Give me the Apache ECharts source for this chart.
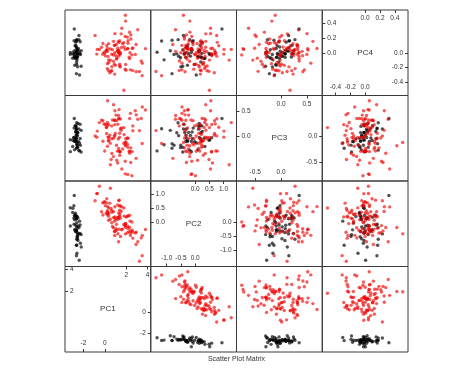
<!DOCTYPE html>
<html><head><meta charset="utf-8">
<script src="https://cdn.jsdelivr.net/npm/echarts@6/dist/echarts.min.js"></script>
<style>html,body{margin:0;padding:0;background:#fff}#c{width:474px;height:369px}</style>
</head><body><div id="c"></div>
<script>
// Variables (diagonal labels)
const varNames = ['PC1', 'PC2', 'PC3', 'PC4'];

// Scores of 150 observations
const pc1 = [-2.684,-2.714,-2.889,-2.745,-2.729,-2.281,-2.820,-2.626,-2.886,-2.672,-2.507,-2.613,-2.786,-3.223,-2.645,-2.387,-2.624,-2.648,-2.200,-2.588,
-2.310,-2.544,-3.216,-2.303,-2.355,-2.506,-2.469,-2.562,-2.640,-2.632,-2.587,-2.410,-2.649,-2.599,-2.637,-2.866,-2.625,-2.801,-2.980,-2.590,
-2.770,-2.849,-2.997,-2.406,-2.210,-2.714,-2.538,-2.839,-2.543,-2.703,
1.284,0.932,1.464,0.184,1.088,0.642,1.095,-0.749,1.044,-0.009,-0.507,0.512,0.265,0.985,-0.174,0.928,0.660,0.236,0.945,0.046,
1.116,0.358,1.298,0.922,0.715,0.900,1.332,1.558,0.813,-0.306,-0.068,-0.189,0.137,1.380,0.588,0.807,1.220,0.815,0.246,0.167,
0.465,0.891,0.231,-0.704,0.357,0.332,0.376,0.643,-0.906,0.299,
2.531,1.416,2.617,1.972,2.350,3.397,0.522,2.933,2.322,2.916,1.662,1.804,2.166,1.347,1.586,1.904,1.950,3.487,3.796,1.301,
2.428,1.199,3.500,1.389,2.275,2.614,1.259,1.291,2.124,2.388,2.842,3.230,2.160,1.444,1.782,3.076,2.144,1.905,1.169,2.107,
2.314,1.922,1.416,2.563,2.419,1.944,1.527,1.764,1.901,1.390];

const pc2 = [-0.319,0.177,0.145,0.318,-0.327,-0.742,0.090,-0.164,0.578,0.114,-0.645,-0.015,0.235,0.512,-1.179,-1.338,-0.811,-0.312,-0.873,-0.514,
-0.392,-0.433,-0.133,-0.099,0.037,0.146,-0.131,-0.368,-0.312,0.197,0.204,-0.411,-0.813,-1.093,0.121,-0.069,-0.600,-0.269,0.488,-0.229,
-0.264,0.941,0.342,-0.189,-0.437,0.250,-0.504,0.228,-0.580,-0.108,
-0.686,-0.319,-0.505,0.828,-0.075,0.418,-0.284,1.006,-0.229,0.724,1.267,0.104,0.550,0.125,0.255,-0.467,0.353,0.334,0.543,0.584,
0.084,0.069,0.327,0.183,-0.149,-0.329,-0.245,-0.268,0.163,0.369,0.706,0.681,0.314,0.421,0.485,-0.194,-0.408,0.372,0.269,0.682,
0.671,0.034,0.405,1.013,0.505,0.213,0.294,-0.018,0.757,0.349,
0.010,0.575,-0.345,0.180,0.040,-0.552,1.194,-0.356,0.244,-0.784,-0.242,0.216,-0.217,0.777,0.540,-0.119,-0.042,-1.177,-0.259,0.762,
-0.379,0.607,-0.462,0.205,-0.335,-0.561,0.180,0.117,0.210,-0.465,-0.376,-1.375,0.217,0.144,0.500,-0.689,-0.140,-0.049,0.165,-0.373,
-0.184,-0.410,0.575,-0.278,-0.305,-0.188,0.375,-0.079,-0.117,0.283];

const pc3 = [0.028,0.210,-0.018,-0.032,-0.090,-0.169,-0.258,0.022,-0.021,0.198,0.075,-0.102,0.207,-0.061,0.151,-0.278,-0.138,-0.027,0.120,-0.214,
0.239,-0.209,-0.293,-0.039,-0.125,0.253,-0.095,0.078,0.146,-0.041,0.077,0.145,-0.226,-0.158,0.143,0.164,0.268,-0.094,-0.073,0.080,
-0.077,0.349,-0.193,-0.264,-0.299,0.098,-0.167,-0.084,0.017,0.089,
0.407,0.018,0.339,0.180,0.308,-0.041,-0.170,-0.012,0.416,-0.281,0.270,-0.131,0.694,0.062,-0.091,0.315,-0.328,0.271,0.500,0.235,
-0.460,0.230,0.348,0.231,0.322,0.316,0.522,0.165,-0.035,0.319,0.244,0.307,0.177,-0.016,-0.444,-0.389,0.237,0.615,-0.188,0.060,
0.025,0.010,0.230,0.106,-0.017,-0.083,-0.078,0.206,0.013,-0.011,
-0.760,-0.296,0.111,-0.108,-0.285,0.349,-0.546,0.421,0.349,-0.423,-0.242,0.038,-0.033,-0.282,-0.629,-0.480,-0.044,-0.134,0.514,0.345,
-0.219,-0.512,0.574,0.065,-0.286,0.206,-0.046,-0.231,-0.154,0.450,0.499,0.115,-0.209,0.153,0.173,0.336,-0.735,-0.162,-0.282,-0.027,
-0.323,-0.114,-0.296,-0.292,-0.504,-0.178,0.122,-0.130,-0.723,-0.363];

const pc4 = [0.002,0.099,0.020,-0.076,-0.062,-0.024,-0.049,-0.046,-0.027,-0.057,-0.015,-0.157,-0.008,-0.022,0.159,0.007,0.168,0.078,0.027,-0.067,
-0.015,0.041,0.004,0.148,-0.301,0.035,0.057,-0.014,0.066,-0.124,-0.061,0.232,-0.282,-0.096,0.019,0.163,0.177,-0.169,-0.011,-0.014,
0.094,0.320,-0.075,0.176,-0.183,0.143,-0.190,-0.060,-0.047,0.035,
0.019,0.001,-0.001,0.094,0.112,-0.243,-0.084,-0.018,-0.039,-0.006,0.045,0.051,0.057,-0.170,0.125,0.100,-0.188,-0.214,0.258,-0.042,
-0.075,0.123,0.001,-0.288,0.042,0.101,0.036,0.070,-0.030,0.075,0.007,-0.021,0.033,-0.178,-0.251,-0.114,0.032,0.154,-0.147,0.030,
-0.270,-0.154,0.017,0.045,-0.099,-0.239,-0.131,-0.021,0.232,-0.051,
-0.029,-0.016,0.066,-0.237,0.000,-0.112,-0.099,-0.257,-0.079,0.111,0.121,0.078,0.163,0.140,0.330,0.220,-0.158,-0.309,0.055,-0.046,
0.186,0.061,-0.140,0.163,-0.060,-0.241,0.148,0.004,0.053,-0.231,-0.022,-0.253,0.128,-0.191,-0.506,0.311,0.056,-0.221,0.020,0.211,
0.278,0.506,-0.016,0.058,0.241,0.427,0.255,0.137,0.045,-0.155];

// Group of each observation (1 = black, 2 = red)
const cluster = [1,1,1,1,1,1,1,1,1,1,1,1,1,1,1,1,1,1,1,1,1,1,1,1,1,1,1,1,1,1,1,1,1,1,1,1,1,1,1,1,1,1,1,1,1,1,1,1,1,1,
2,2,2,2,2,2,2,2,2,2,2,2,2,2,2,2,2,2,2,2,2,2,2,2,2,2,2,2,2,2,2,2,2,2,2,2,2,2,2,2,2,2,2,2,2,2,2,2,2,2,
2,2,2,2,2,2,2,2,2,2,2,2,2,2,2,2,2,2,2,2,2,2,2,2,2,2,2,2,2,2,2,2,2,2,2,2,2,2,2,2,2,2,2,2,2,2,2,2,2,2];

// Tick labels on diagonal panels: lower half (bottom/right), upper half (top/left)
const lowerTicks = [[-2, 0], [-1.0, -0.5, 0.0], [-0.5, 0.0], [-0.4, -0.2, 0.0]];
const upperTicks = [[2, 4], [0.0, 0.5, 1.0], [0.0, 0.5], [0.0, 0.2, 0.4]];
const tickDecimals = [0, 1, 1, 1];

const title = 'Scatter Plot Matrix';

// ---- layout / style ----
const vars = [pc1, pc2, pc3, pc4];
const L = 65, T = 10, W = 85.75, H = 85.5;
const lineCol = '#3a3a3a', textCol = '#333';
const FONT = 'Liberation Sans, Arial, sans-serif';
const groupStyle = { 1: { color: 'rgba(0,0,0,0.85)', z: 2 }, 2: { color: 'rgba(240,0,0,0.8)', z: 3 } };

const lims = vars.map(v => {
  const lo = Math.min(...v), hi = Math.max(...v), r = hi - lo;
  return [lo - 0.07 * r, hi + 0.07 * r];
});

const grid = [], xAxis = [], yAxis = [], series = [], graphic = [];
for (let i = 0; i < 4; i++) {        // row from top
  for (let j = 0; j < 4; j++) {      // column
    const vx = j, vy = 3 - i;
    const g = grid.length;
    grid.push({ left: L + j * W, top: T + i * H, width: W, height: H, show: true,
      borderColor: lineCol, borderWidth: 1, backgroundColor: 'transparent' });
    if (vx === vy) {
      const fmt = v => Number(v).toFixed(tickDecimals[vx]);
      const mk = (pos, vals) => ({
        gridIndex: g, type: 'value', position: pos, min: lims[vx][0], max: lims[vx][1],
        axisLine: { show: false, onZero: false }, splitLine: { show: false },
        axisTick: { show: true, inside: true, length: 3, lineStyle: { color: lineCol, width: 1 }, customValues: vals },
        axisLabel: { show: true, inside: true, margin: 5, fontSize: 6.5, color: textCol,
          fontFamily: FONT, customValues: vals, formatter: fmt }
      });
      xAxis.push(mk('bottom', lowerTicks[vx]));
      xAxis.push(mk('top', upperTicks[vx]));
      yAxis.push(mk('left', upperTicks[vx]));
      yAxis.push(mk('right', lowerTicks[vx]));
      graphic.push({ type: 'text', x: L + j * W + W / 2, y: T + i * H + H / 2,
        style: { text: varNames[vx], fontSize: 8, fill: textCol, align: 'center', verticalAlign: 'middle', fontFamily: FONT } });
    } else {
      const xi = xAxis.length;
      xAxis.push({ gridIndex: g, type: 'value', min: lims[vx][0], max: lims[vx][1], show: false });
      const yi = yAxis.length;
      yAxis.push({ gridIndex: g, type: 'value', min: lims[vy][0], max: lims[vy][1], show: false });
      [1, 2].forEach(cl => {
        const data = [];
        for (let k = 0; k < pc1.length; k++) if (cluster[k] === cl) data.push([vars[vx][k], vars[vy][k]]);
        series.push({ type: 'scatter', xAxisIndex: xi, yAxisIndex: yi, data, symbol: 'circle', symbolSize: 3.4,
          itemStyle: { color: groupStyle[cl].color }, z: groupStyle[cl].z, silent: true });
      });
    }
  }
}
graphic.push({ type: 'text', x: L + 2 * W, y: 359, style: { text: title, fontSize: 7, fill: textCol,
  align: 'center', verticalAlign: 'middle', fontFamily: FONT } });

const chart = echarts.init(document.getElementById('c'), null, { renderer: 'canvas' });
chart.setOption({ animation: false, backgroundColor: '#fff', grid, xAxis, yAxis, series, graphic });
</script></body></html>
